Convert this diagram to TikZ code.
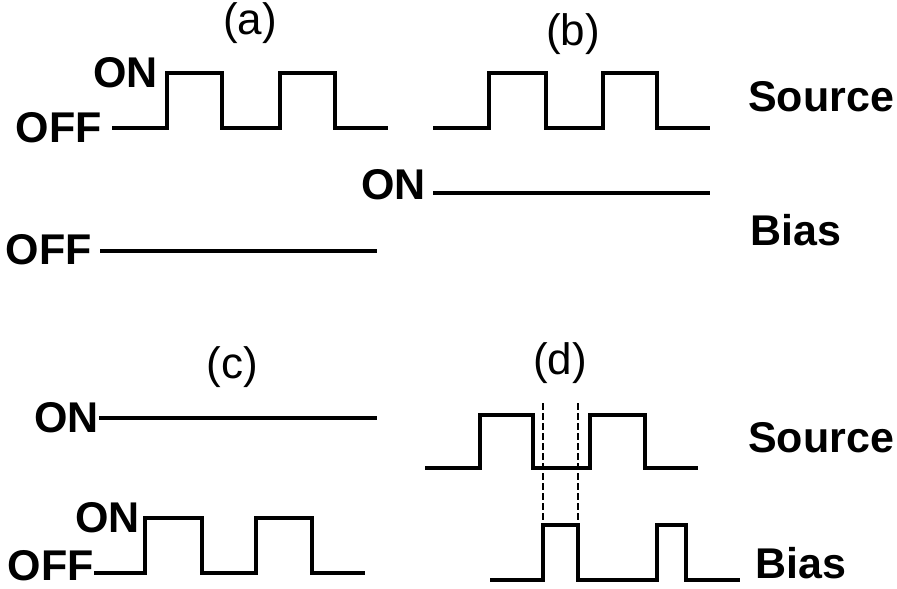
\documentclass[tikz,border=0pt]{standalone}
\usepackage{fontspec}
\setmainfont{Liberation Sans}
\begin{document}
\begin{tikzpicture}[x=1pt,y=-1pt,
  sig/.style={line width=3.2pt},
  lab/.style={font=\fontsize{43}{45}\selectfont\bfseries,inner sep=0pt},
  captxt/.style={font=\fontsize{44}{46}\selectfont,inner sep=0pt},
  guide/.style={dash pattern=on 7pt off 3pt,line width=1.3pt}]
\useasboundingbox (0,0) rectangle (897,589);
\node[captxt] (ca) at (250,23) {(a)};
\node[captxt] (cb) at (573,34) {(b)};
\node[captxt] (cc) at (232,367) {(c)};
\node[captxt] (cd) at (560,363) {(d)};
\node[lab,anchor=east] (aoff) at (102,128) {OFF};
\node[lab,anchor=east] (aon) at (158,73) {ON};
\draw[sig] (112,128) -- (167,128) -- (167,73) -- (222,73) -- (222,128) -- (280,128) -- (280,73) -- (335,73) -- (335,128) -- (388,128);
\draw[sig] (433,128) -- (489,128) -- (489,73) -- (546,73) -- (546,128) -- (603,128) -- (603,73) -- (657,73) -- (657,128) -- (710,128);
\node[lab,anchor=west] (src1) at (748,97) {Source};
\node[lab,anchor=west] (bias1) at (750,230) {Bias};
\node[lab,anchor=east] (bon) at (426,185) {ON};
\draw[sig] (433,193) -- (710,193);
\node[lab,anchor=east] (boff) at (92,250) {OFF};
\draw[sig] (100,251) -- (377,251);
\node[lab,anchor=east] (con) at (99,418) {ON};
\draw[sig] (99,418) -- (377,418);
\node[lab,anchor=east] (con2) at (140,518) {ON};
\node[lab,anchor=east] (coff) at (94,566) {OFF};
\draw[sig] (94,573) -- (145,573) -- (145,518) -- (202,518) -- (202,573) -- (256,573) -- (256,518) -- (312,518) -- (312,573) -- (365,573);
\draw[sig] (425,468) -- (480,468) -- (480,415) -- (533,415) -- (533,468) -- (590,468) -- (590,415) -- (645,415) -- (645,468) -- (698,468);
\node[lab,anchor=west] (src2) at (748,438) {Source};
\draw[sig] (490,580) -- (543,580) -- (543,525) -- (578,525) -- (578,580) -- (657,580) -- (657,525) -- (686,525) -- (686,580) -- (740,580);
\node[lab,anchor=west] (bias2) at (755,563) {Bias};
\draw[guide] (543,403) -- (543,525);
\draw[guide] (578,403) -- (578,525);
\end{tikzpicture}
\end{document}
